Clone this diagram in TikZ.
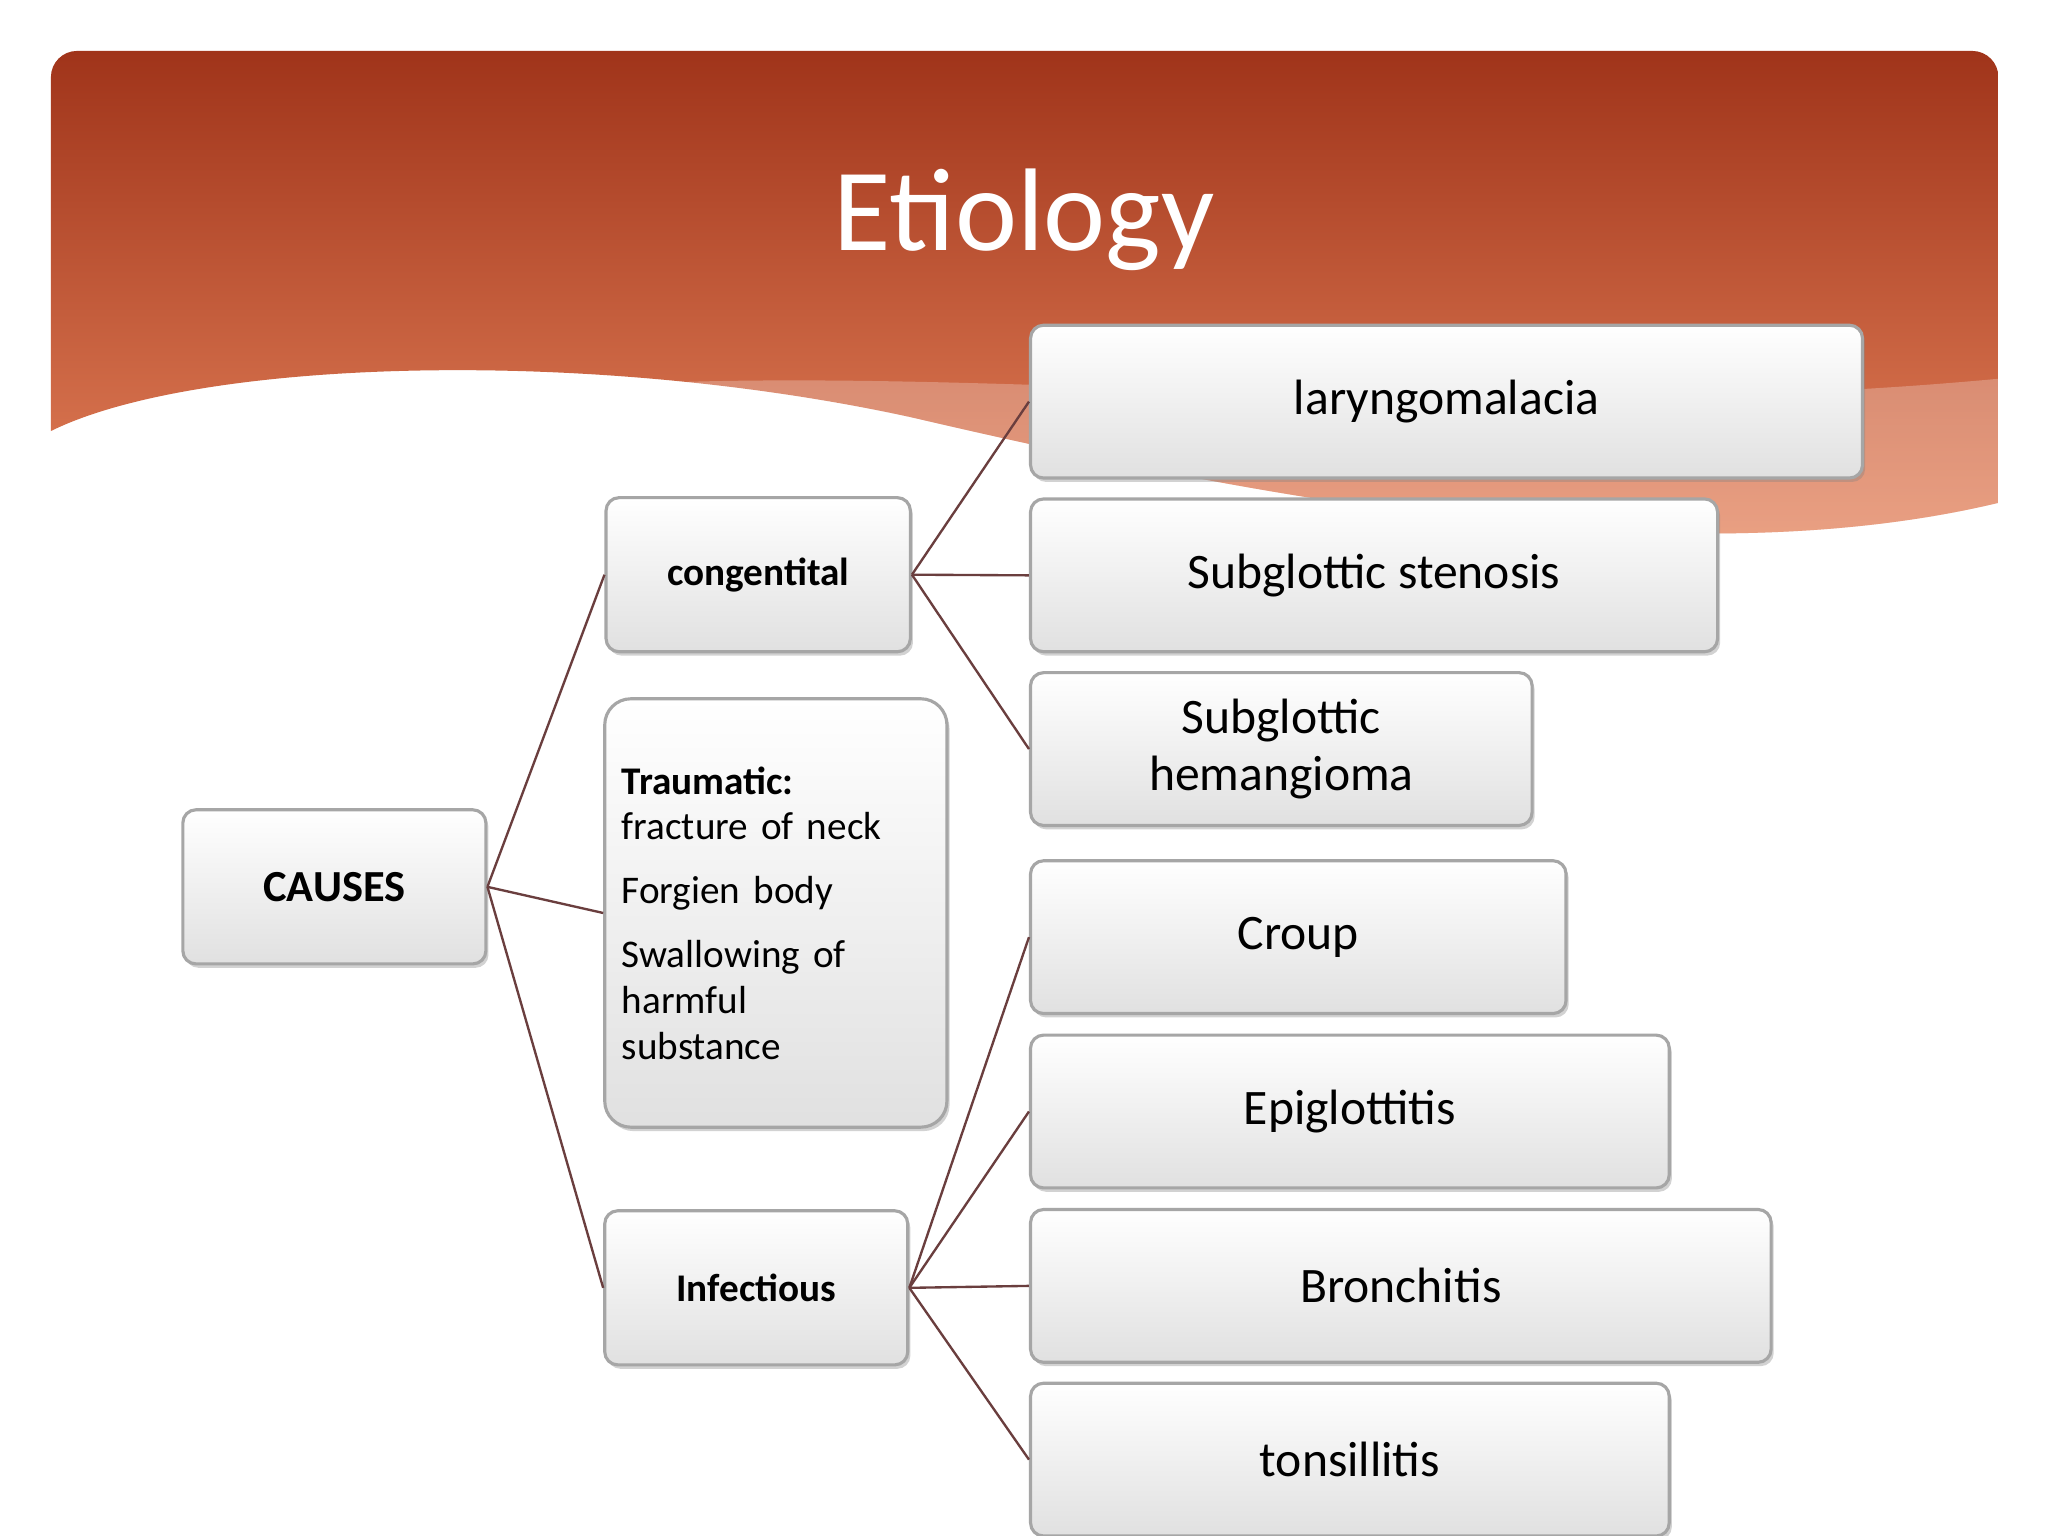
\documentclass[tikz,border=0pt]{standalone}
\usepackage{fontspec}
\setmainfont{Carlito}
\usetikzlibrary{shadows}
\definecolor{hdrtop}{HTML}{A0341A}
\definecolor{hdrbot}{HTML}{E8865E}
\definecolor{conn}{HTML}{6A3E3E}
\tikzset{
  box/.style={draw=black!35, line width=1.2pt, rounded corners=5pt, top color=white, bottom color=black!12,
    drop shadow={shadow xshift=1pt, shadow yshift=-1.5pt, opacity=0.35}, inner sep=4pt, align=center, font=\fontsize{19}{22}\selectfont},
  link/.style={conn, line width=0.9pt}
}
\begin{document}
\begin{tikzpicture}[x=0.5pt,y=-0.5pt]
\useasboundingbox (0,0) rectangle (1568,1176);
\clip (0,0) rectangle (1568,1176);
\fill[white] (0,0) rectangle (1568,1176);
\begin{scope}
\clip[rounded corners=10pt] (39,39) -- (1530,39) -- (1530,600) -- (39,600) -- cycle;
\shade[top color=hdrtop, bottom color=hdrbot]
  (39,39) -- (1530,39) -- (1530,385) .. controls (1300,440) and (1000,390) .. (700,320)
  .. controls (450,265) and (150,275) .. (39,330) -- cycle;
\fill[white, opacity=0.25] (400,300) .. controls (700,270) and (1100,330) .. (1530,290) -- (1530,385)
  .. controls (1300,440) and (1000,390) .. (700,320) .. controls (600,300) and (500,295) .. (400,300) -- cycle;
\end{scope}
\node[white, font=\fontsize{45}{50}\selectfont] (title) at (784,168) {Etiology};

\node[box, minimum width=116pt, minimum height=59pt, font=\fontsize{17}{20}\selectfont\bfseries] (causes) at (256,679) {CAUSES};
\node[box, minimum width=116.5pt, minimum height=59pt, font=\fontsize{15}{18}\selectfont\bfseries] (cong) at (580.5,440) {congentital};
\node[box, minimum width=131pt, minimum height=164pt, rounded corners=10pt, align=left, text width=118pt, font=\fontsize{15}{17.5}\selectfont] (trau) at (594,699)
 {\textbf{Traumatic:}\\fracture of neck\\[7pt]Forgien body\\[7pt]Swallowing of\\harmful\\substance};
\node[box, minimum width=116pt, minimum height=59pt, font=\fontsize{15}{18}\selectfont\bfseries] (inf) at (579,986) {Infectious};

\node[box, minimum width=318.5pt, minimum height=58.5pt] (lar) at (1107.5,307.5) {laryngomalacia};
\node[box, minimum width=263pt, minimum height=58.5pt] (sten) at (1052,440.5) {Subglottic stenosis};
\node[box, minimum width=192pt, minimum height=58.5pt, font=\fontsize{19}{21.5}\selectfont] (hem) at (981,573.5) {Subglottic\\hemangioma};
\node[box, minimum width=205pt, minimum height=58.5pt] (croup) at (994,717.5) {Croup};
\node[box, minimum width=244.5pt, minimum height=58.5pt] (epi) at (1033.5,851) {Epiglottitis};
\node[box, minimum width=283.5pt, minimum height=58.5pt] (bron) at (1072.5,984.5) {Bronchitis};
\node[box, minimum width=244.5pt, minimum height=58.5pt] (ton) at (1033.5,1117.5) {tonsillitis};

\draw[link] (causes.east) -- (cong.west);
\draw[link] (causes.east) -- (trau.west);
\draw[link] (causes.east) -- (inf.west);
\draw[link] (cong.east) -- (lar.west);
\draw[link] (cong.east) -- (sten.west);
\draw[link] (cong.east) -- (hem.west);
\draw[link] (inf.east) -- (croup.west);
\draw[link] (inf.east) -- (epi.west);
\draw[link] (inf.east) -- (bron.west);
\draw[link] (inf.east) -- (ton.west);
\end{tikzpicture}
\end{document}
